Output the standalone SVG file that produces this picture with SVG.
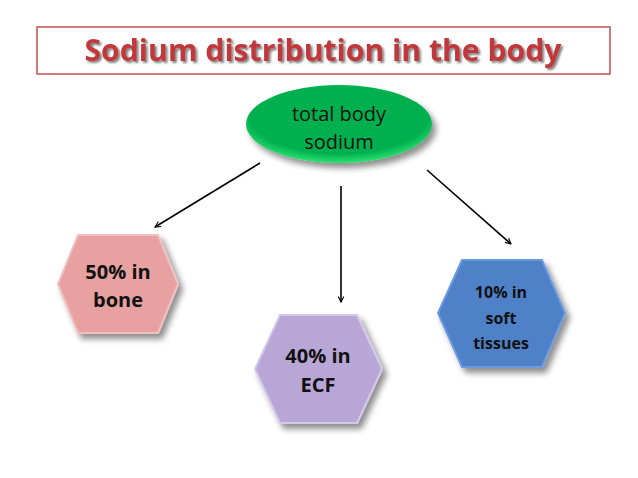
<svg xmlns="http://www.w3.org/2000/svg" width="638" height="478" viewBox="0 0 638 478">
<style>
.t{font-family:"Open Sans","Liberation Sans",sans-serif;text-anchor:middle;fill:#111}
.b{font-weight:bold}
.c{stroke:#000;stroke-width:1.6;fill:none;marker-end:url(#ah)}
</style>
<defs>
<marker id="ah" viewBox="0 0 10 10" refX="9" refY="5" markerWidth="7" markerHeight="7" orient="auto" markerUnits="userSpaceOnUse"><path d="M1,1 L9,5 L1,9" fill="none" stroke="#000" stroke-width="1.6"/></marker>
<filter id="sh" x="-20%" y="-20%" width="150%" height="150%"><feGaussianBlur in="SourceAlpha" stdDeviation="3"/><feOffset dx="4" dy="5"/><feComponentTransfer><feFuncA type="linear" slope="0.45"/></feComponentTransfer><feMerge><feMergeNode/><feMergeNode in="SourceGraphic"/></feMerge></filter>
<filter id="ts" x="-5%" y="-20%" width="110%" height="150%"><feGaussianBlur in="SourceAlpha" stdDeviation="1.2"/><feOffset dx="2" dy="2"/><feComponentTransfer><feFuncA type="linear" slope="0.5"/></feComponentTransfer><feMerge><feMergeNode/><feMergeNode in="SourceGraphic"/></feMerge></filter>
<radialGradient id="g1" cx="50%" cy="40%" r="60%"><stop offset="0" stop-color="#00b050"/><stop offset="0.8" stop-color="#00b050"/><stop offset="1" stop-color="#2ee070"/></radialGradient>
</defs>
<rect width="638" height="478" fill="#fff"/>
<g id="title">
<rect x="37" y="27" width="573" height="47" fill="#fff" stroke="#c0504d" stroke-width="1.5"/>
<text class="t b" x="323" y="61" font-size="30" fill="#c0393b" style="fill:#c0393b" filter="url(#ts)" textLength="477" lengthAdjust="spacingAndGlyphs">Sodium distribution in the body</text>
</g>
<g id="connectors">
<line class="c" x1="260" y1="163" x2="155" y2="227"/>
<line class="c" x1="341" y1="186" x2="341" y2="302"/>
<line class="c" x1="427" y1="170" x2="511" y2="244"/>
</g>
<g id="total">
<ellipse cx="339" cy="124" rx="93" ry="39" fill="url(#g1)" filter="url(#sh)"/>
<text class="t" x="339" y="121" font-size="20">total body</text>
<text class="t" x="339" y="149" font-size="20">sodium</text>
</g>
<g id="bone">
<polygon points="78,235 158,235 178,284 158,333 78,333 58,284" fill="#e6a1a0" stroke="#f0c0c0" stroke-width="2" filter="url(#sh)"/>
<text class="t b" x="118" y="279" font-size="20">50% in</text>
<text class="t b" x="118" y="307" font-size="20">bone</text>
</g>
<g id="ecf">
<polygon points="280,315 357,315 382,369 357,423 280,423 255,369" fill="#b8a6d6" stroke="#d4c8ea" stroke-width="2" filter="url(#sh)"/>
<text class="t b" x="318" y="363" font-size="20">40% in</text>
<text class="t b" x="318" y="392" font-size="20">ECF</text>
</g>
<g id="soft">
<polygon points="462,260 542,260 565,313 542,367 462,367 438,313" fill="#4f81c8" stroke="#6a9ae0" stroke-width="2" filter="url(#sh)"/>
<text class="t b" x="501" y="298" font-size="16">10% in</text>
<text class="t b" x="501" y="324" font-size="16">soft</text>
<text class="t b" x="501" y="349" font-size="16">tissues</text>
</g>
</svg>
